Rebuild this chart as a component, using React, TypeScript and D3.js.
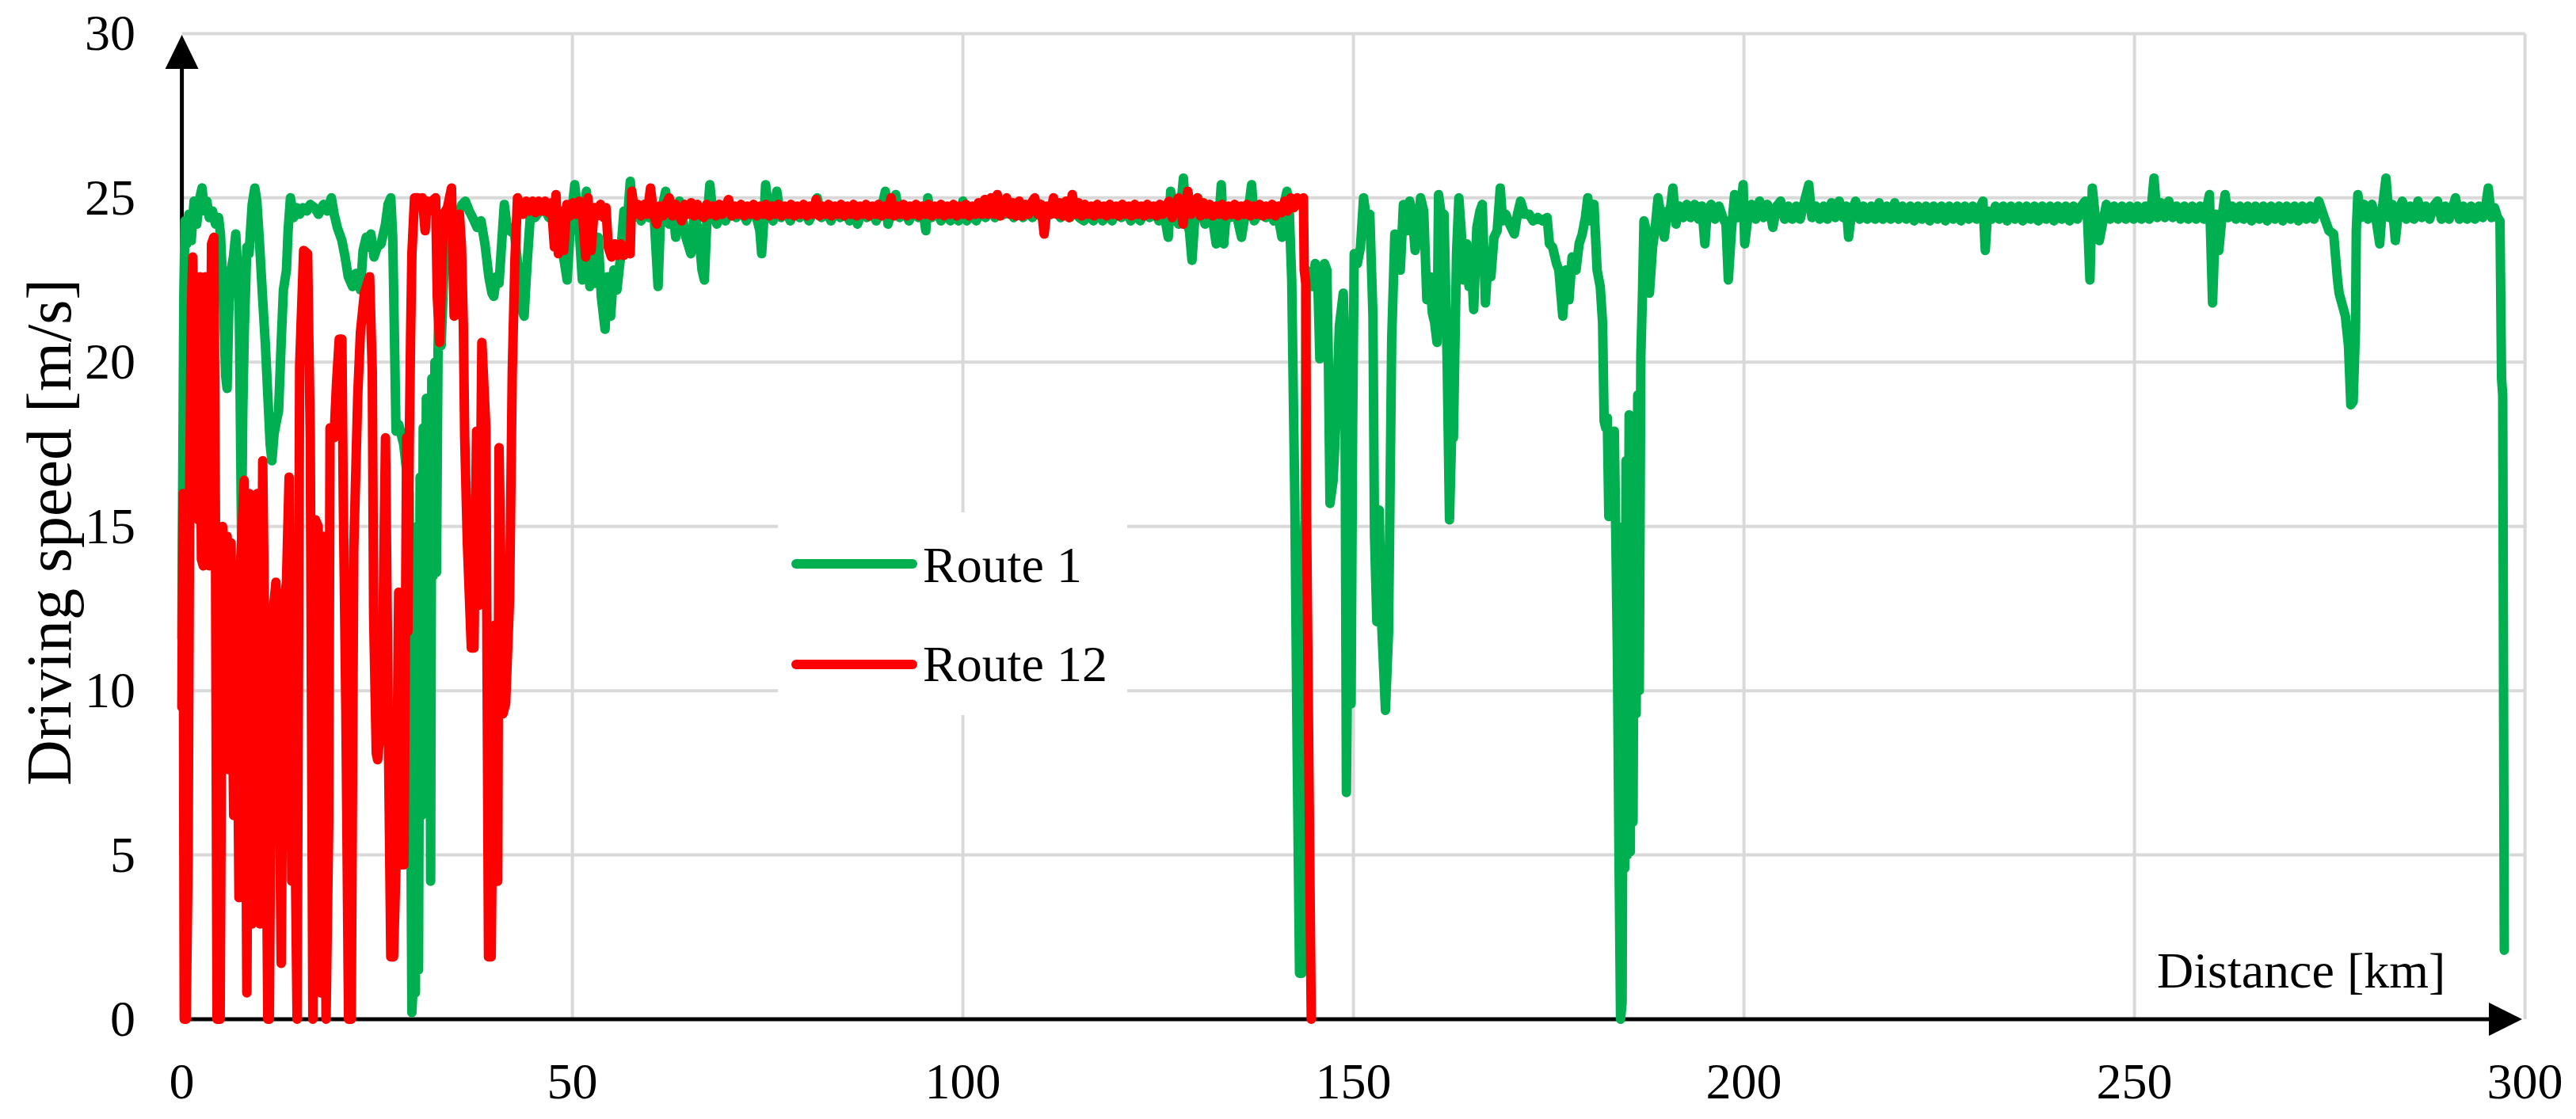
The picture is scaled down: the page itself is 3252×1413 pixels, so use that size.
import React from "react";
import * as d3 from "d3";

const xTicks = [0, 50, 100, 150, 200, 250, 300];
const yTicks = [0, 5, 10, 15, 20, 25, 30];
const seriesNames = ["Route 1", "Route 12"];
const seriesColors = ["#00B050", "#FF0000"];
const xTitle = "Distance [km]";
const yTitle = "Driving speed [m/s]";

// Route 1: [distance km, speed m/s]
const route1: [number, number][] = [
  [0, 11.6], [0.1, 16.0], [0.25, 22.0], [0.4, 24.3], [0.6, 23.6], [0.9, 24.5], [1.2, 23.7], [1.56, 24.9], [1.9, 24.2], [2.3, 25.0],
  [2.58, 25.3], [2.9, 24.6], [3.2, 24.9], [3.5, 24.4], [3.93, 24.6], [4.3, 24.2], [4.7, 24.4], [4.94, 23.9], [5.3, 22.0], [5.6, 19.6],
  [5.79, 19.2], [6.0, 21.5], [6.3, 22.8], [6.6, 23.2], [6.9, 23.9], [7.1, 23.0], [7.31, 22.5], [7.5, 18.0], [7.64, 14.7], [7.8, 18.5],
  [8.0, 21.0], [8.32, 23.5], [8.6, 23.3], [9.0, 24.8], [9.34, 25.3], [9.6, 24.9], [9.9, 23.8], [10.35, 21.9], [10.7, 20.5], [11.0, 19.0],
  [11.3, 17.5], [11.53, 17.0], [11.8, 17.8], [12.1, 18.2], [12.38, 18.5], [12.7, 20.5], [13.0, 22.2], [13.39, 22.8], [13.6, 24.0], [13.9, 25.0],
  [14.3, 24.4], [14.7, 24.7], [15.08, 24.5], [15.5, 24.7], [16.0, 24.6], [16.44, 24.8], [17.0, 24.7], [17.5, 24.5], [18.13, 24.8], [18.6, 24.6],
  [19.14, 25.0], [19.5, 24.5], [19.9, 24.1], [20.49, 23.7], [20.9, 23.2], [21.3, 22.6], [21.85, 22.3], [22.3, 22.7], [22.86, 22.2], [23.2, 23.4],
  [23.6, 23.8], [23.87, 23.5], [24.2, 23.9], [24.6, 23.2], [25.0, 23.5], [25.5, 23.6], [26.07, 24.2], [26.4, 24.8], [26.75, 25.0], [27.0, 23.8],
  [27.2, 21.0], [27.42, 17.9], [27.76, 18.1], [28.4, 17.5], [29.1, 16.0], [29.45, 0.2], [29.6, 1.0], [29.75, 14.8], [29.9, 0.8], [30.1, 15.0],
  [30.3, 1.5], [30.5, 16.5], [30.7, 6.2], [30.9, 18.0], [31.1, 8.0], [31.3, 18.9], [31.5, 9.0], [31.7, 18.5], [31.85, 4.2], [32.0, 19.5],
  [32.2, 13.5], [32.4, 20.0], [32.6, 13.6], [32.8, 20.4], [33.0, 22.9], [33.2, 20.5], [33.5, 22.5], [33.8, 23.4], [34.1, 23.8], [34.52, 24.3],
  [34.9, 22.6], [35.2, 23.5], [35.5, 24.6], [35.88, 24.8], [36.3, 24.9], [36.8, 24.6], [37.23, 24.4], [37.8, 24.1], [38.3, 24.3], [38.8, 23.6],
  [39.3, 22.6], [39.7, 22.1], [39.93, 22.0], [40.3, 22.6], [40.61, 22.4], [41.0, 23.8], [41.28, 24.8], [41.6, 24.2], [41.96, 24.0], [42.6, 23.9],
  [43.2, 22.5], [43.5, 21.6], [43.82, 21.4], [44.2, 23.0], [44.66, 24.6], [45.2, 24.4], [45.8, 24.6], [46.35, 24.7], [47.0, 24.4], [47.5, 24.5],
  [48.04, 24.6], [48.6, 23.6], [49.0, 23.0], [49.33, 22.5], [49.7, 24.0], [50.3, 25.4], [50.8, 24.3], [51.27, 22.5], [51.6, 24.6], [51.8, 25.2],
  [52.23, 22.3], [52.6, 23.4], [52.9, 22.4], [53.3, 23.8], [53.7, 22.0], [54.18, 21.0], [54.5, 22.6], [54.9, 21.4], [55.3, 22.8], [55.7, 22.2],
  [56.12, 23.1], [56.6, 24.6], [57.0, 24.2], [57.41, 25.5], [57.8, 24.4], [58.3, 24.7], [58.8, 24.3], [59.35, 24.6], [59.8, 24.4], [60.4, 24.7],
  [60.97, 22.3], [61.3, 24.5], [61.94, 25.2], [62.4, 24.2], [62.8, 24.8], [63.23, 23.8], [63.7, 24.9], [64.1, 24.4], [64.53, 23.8], [65.17, 23.3],
  [65.6, 24.5], [66.14, 24.0], [66.6, 22.8], [66.9, 22.5], [67.2, 24.2], [67.6, 25.4], [68.0, 24.5], [68.5, 24.2], [69.05, 24.7], [69.6, 24.3],
  [70.2, 24.6], [70.99, 24.4], [71.6, 24.7], [72.28, 24.3], [72.9, 24.6], [73.58, 24.4], [74.0, 24.0], [74.23, 23.3], [74.5, 24.3], [74.74, 25.4],
  [75.2, 24.5], [75.7, 24.3], [76.17, 25.2], [76.7, 24.4], [77.3, 24.6], [77.9, 24.3], [78.5, 24.7], [79.1, 24.4], [79.7, 24.6], [80.3, 24.3],
  [80.9, 24.6], [81.34, 25.0], [81.9, 24.4], [82.5, 24.6], [83.1, 24.3], [83.7, 24.6], [84.3, 24.4], [84.9, 24.6], [85.5, 24.3], [86.1, 24.5],
  [86.5, 24.2], [87.1, 24.6], [87.7, 24.4], [88.3, 24.6], [88.9, 24.3], [89.5, 24.6], [90.07, 25.2], [90.4, 24.2], [90.9, 24.6], [91.4, 25.1],
  [91.9, 24.4], [92.5, 24.6], [93.1, 24.3], [93.7, 24.6], [94.3, 24.4], [94.9, 24.6], [95.25, 24.0], [95.5, 25.0], [96.0, 24.4], [96.6, 24.6],
  [97.2, 24.3], [97.8, 24.5], [98.4, 24.3], [99.0, 24.6], [99.45, 24.3], [100.0, 24.9], [100.5, 24.3], [101.1, 24.5], [101.7, 24.3], [102.3, 24.6],
  [102.9, 24.4], [103.5, 24.7], [104.1, 24.4], [104.7, 24.6], [105.3, 24.5], [105.9, 24.7], [106.5, 24.4], [107.1, 24.6], [107.7, 24.4], [108.3, 24.6],
  [108.9, 24.4], [109.5, 24.6], [110.1, 24.4], [110.7, 24.7], [111.3, 24.5], [111.9, 24.7], [112.5, 24.4], [113.1, 24.6], [113.7, 24.4], [114.3, 24.6],
  [114.9, 24.4], [115.5, 24.3], [116.1, 24.5], [116.7, 24.3], [117.3, 24.6], [117.9, 24.3], [118.5, 24.5], [119.1, 24.3], [119.7, 24.6], [120.3, 24.4],
  [120.9, 24.6], [121.5, 24.3], [122.1, 24.5], [122.7, 24.3], [123.3, 24.6], [123.9, 24.4], [124.5, 24.6], [125.1, 24.3], [125.7, 24.6], [126.29, 23.8],
  [126.6, 25.2], [127.1, 24.4], [127.6, 24.2], [128.0, 25.0], [128.23, 25.6], [128.6, 24.3], [129.0, 24.0], [129.33, 23.1], [129.7, 24.4], [130.1, 25.0],
  [130.49, 24.6], [131.0, 24.2], [131.5, 24.5], [132.0, 24.3], [132.43, 23.6], [132.8, 24.4], [133.08, 25.4], [133.4, 23.6], [133.73, 24.6], [134.2, 24.4],
  [134.7, 24.6], [135.2, 24.3], [135.67, 23.8], [136.2, 24.6], [136.7, 24.9], [136.96, 25.4], [137.3, 24.3], [137.8, 24.5], [138.26, 24.6], [138.8, 24.4],
  [139.3, 24.6], [139.8, 24.3], [140.3, 24.5], [140.85, 23.8], [141.2, 24.9], [141.49, 25.2], [141.8, 24.5], [142.1, 22.5], [142.5, 15.7], [142.8, 8.0],
  [143.1, 1.4], [143.4, 1.4], [143.6, 13.8], [143.8, 15.2], [143.95, 22.8], [144.4, 22.6], [144.8, 22.3], [145.1, 23.0], [145.4, 22.8], [145.7, 20.1],
  [146.0, 22.9], [146.3, 23.0], [146.6, 22.8], [146.8, 19.9], [147.0, 15.7], [147.4, 16.4], [147.8, 18.4], [148.2, 21.1], [148.7, 22.1], [148.9, 20.5],
  [149.1, 6.9], [149.3, 12.0], [149.5, 15.0], [149.7, 9.6], [149.9, 18.0], [150.1, 23.3], [150.5, 23.0], [150.9, 23.5], [151.3, 25.0], [151.7, 24.3],
  [152.1, 24.5], [152.5, 21.4], [152.7, 14.7], [153.0, 12.1], [153.3, 15.5], [153.6, 12.1], [153.9, 10.5], [154.1, 9.4], [154.5, 11.8], [154.9, 20.7],
  [155.3, 23.9], [155.7, 23.2], [156.0, 22.8], [156.4, 24.8], [156.9, 24.0], [157.2, 24.9], [157.5, 24.6], [157.9, 23.4], [158.3, 24.0], [158.6, 25.0],
  [159.0, 24.6], [159.4, 21.9], [159.8, 22.6], [160.1, 21.5], [160.4, 21.2], [160.7, 20.6], [160.9, 25.1], [161.3, 24.4], [161.6, 24.5], [162.0, 20.0],
  [162.3, 15.2], [162.6, 18.0], [162.8, 17.7], [163.2, 23.3], [163.5, 25.0], [163.8, 24.0], [164.1, 22.5], [164.5, 23.6], [164.8, 22.3], [165.1, 23.0],
  [165.4, 21.6], [165.8, 24.1], [166.2, 24.6], [166.5, 24.8], [166.9, 21.8], [167.2, 23.0], [167.6, 22.6], [168.0, 23.8], [168.4, 24.0], [168.8, 25.3],
  [169.1, 24.3], [169.5, 24.5], [170.0, 24.2], [170.6, 23.9], [171.0, 24.5], [171.4, 24.9], [171.9, 24.5], [172.5, 24.5], [173.0, 24.3], [173.6, 24.4],
  [174.2, 24.3], [174.8, 24.4], [175.1, 23.6], [175.5, 23.5], [176.0, 23.0], [176.3, 22.8], [176.8, 21.4], [177.2, 22.8], [177.6, 21.9], [178.0, 23.2],
  [178.5, 22.8], [178.9, 23.6], [179.3, 23.9], [179.7, 24.4], [180.0, 25.0], [180.4, 24.3], [180.8, 24.8], [181.2, 22.8], [181.6, 22.3], [181.9, 21.2],
  [182.1, 18.2], [182.3, 18.0], [182.5, 18.3], [182.7, 15.3], [183.0, 17.0], [183.4, 17.9], [183.6, 14.6], [183.8, 11.0], [184.0, 5.0], [184.2, 0],
  [184.4, 0.5], [184.6, 15.0], [184.75, 4.6], [184.9, 17.0], [185.1, 5.0], [185.3, 18.4], [185.45, 5.1], [185.6, 17.0], [185.8, 6.0], [186.0, 17.7],
  [186.2, 9.3], [186.4, 19.0], [186.6, 10.0], [186.8, 20.2], [187.0, 22.0], [187.2, 24.3], [187.5, 24.0], [187.9, 22.1], [188.3, 23.5], [188.6, 24.0],
  [189.0, 25.0], [189.4, 24.4], [189.8, 23.8], [190.2, 24.6], [190.5, 24.5], [190.9, 25.3], [191.3, 24.2], [191.7, 24.75], [192.2, 24.4], [192.7, 24.8],
  [193.2, 24.4], [193.7, 24.8], [194.2, 24.35], [194.6, 24.75], [195.0, 23.6], [195.3, 24.6], [195.8, 24.8], [196.3, 24.35], [196.8, 24.75], [197.3, 24.4],
  [197.7, 24.2], [198.0, 22.5], [198.4, 24.0], [198.8, 25.1], [199.2, 24.4], [199.6, 24.75], [199.9, 25.4], [200.1, 23.6], [200.5, 24.4], [201.0, 24.8],
  [201.5, 24.35], [202.0, 24.9], [202.5, 24.4], [203.0, 24.8], [203.4, 24.5], [203.7, 24.1], [204.2, 24.75], [204.7, 24.9], [205.2, 24.35], [205.7, 24.75],
  [206.2, 24.35], [206.7, 24.75], [207.2, 24.35], [207.7, 24.85], [208.3, 25.4], [208.7, 24.4], [209.2, 24.75], [209.7, 24.35], [210.2, 24.75], [210.7, 24.35],
  [211.2, 24.85], [211.7, 24.4], [212.2, 24.9], [212.7, 24.4], [213.1, 24.75], [213.4, 23.8], [213.8, 24.6], [214.3, 24.9], [214.8, 24.35], [215.3, 24.75],
  [215.8, 24.35], [216.3, 24.75], [216.8, 24.35], [217.3, 24.85], [217.8, 24.35], [218.3, 24.75], [218.8, 24.35], [219.3, 24.85], [219.8, 24.35], [220.3, 24.75],
  [220.8, 24.35], [221.3, 24.75], [221.8, 24.3], [222.3, 24.75], [222.8, 24.35], [223.3, 24.75], [223.8, 24.3], [224.3, 24.75], [224.8, 24.35], [225.3, 24.75],
  [225.8, 24.3], [226.3, 24.75], [226.8, 24.35], [227.3, 24.75], [227.8, 24.3], [228.3, 24.75], [228.8, 24.35], [229.3, 24.75], [229.8, 24.35], [230.3, 24.75],
  [230.6, 24.9], [230.9, 23.4], [231.2, 24.6], [231.7, 24.35], [232.2, 24.75], [232.7, 24.35], [233.2, 24.75], [233.7, 24.3], [234.2, 24.75], [234.7, 24.35],
  [235.2, 24.75], [235.7, 24.3], [236.2, 24.75], [236.7, 24.35], [237.2, 24.75], [237.7, 24.3], [238.2, 24.75], [238.7, 24.35], [239.2, 24.75], [239.7, 24.3],
  [240.2, 24.75], [240.7, 24.35], [241.2, 24.75], [241.7, 24.3], [242.2, 24.75], [242.7, 24.35], [243.2, 24.75], [243.7, 24.9], [244.0, 24.3], [244.3, 22.5],
  [244.6, 25.3], [245.0, 24.4], [245.5, 23.7], [245.9, 24.2], [246.4, 24.8], [246.9, 24.35], [247.4, 24.75], [247.9, 24.35], [248.4, 24.75], [248.9, 24.35],
  [249.4, 24.75], [249.9, 24.35], [250.4, 24.75], [250.9, 24.35], [251.4, 24.75], [251.9, 24.35], [252.2, 24.8], [252.5, 25.6], [252.9, 24.4], [253.4, 24.85],
  [253.9, 24.4], [254.4, 24.9], [254.9, 24.4], [255.4, 24.75], [255.9, 24.35], [256.4, 24.75], [256.9, 24.35], [257.4, 24.75], [257.9, 24.35], [258.4, 24.75],
  [258.9, 24.35], [259.3, 24.75], [259.6, 25.1], [260.0, 21.8], [260.4, 24.5], [260.8, 23.4], [261.2, 24.4], [261.6, 25.1], [262.0, 24.4], [262.5, 24.75],
  [263.0, 24.35], [263.5, 24.75], [264.0, 24.35], [264.5, 24.75], [265.0, 24.3], [265.5, 24.75], [266.0, 24.35], [266.5, 24.75], [267.0, 24.3], [267.5, 24.75],
  [268.0, 24.35], [268.5, 24.75], [269.0, 24.3], [269.5, 24.75], [270.0, 24.35], [270.5, 24.75], [271.0, 24.3], [271.5, 24.75], [272.0, 24.35], [272.5, 24.75],
  [273.0, 24.35], [273.6, 24.9], [274.3, 24.4], [274.9, 24.0], [275.5, 23.9], [276.0, 22.5], [276.2, 22.1], [277.0, 21.4], [277.4, 20.5], [277.7, 18.7],
  [278.0, 18.8], [278.3, 21.0], [278.4, 24.0], [278.6, 25.1], [279.0, 24.4], [279.4, 24.8], [279.9, 24.35], [280.4, 24.8], [280.9, 24.4], [281.4, 23.6],
  [281.7, 24.6], [282.2, 25.6], [282.6, 24.4], [283.0, 24.8], [283.4, 23.7], [283.8, 24.6], [284.3, 24.9], [284.8, 24.35], [285.3, 24.75], [285.8, 24.35],
  [286.3, 24.9], [286.8, 24.4], [287.3, 24.75], [287.8, 24.35], [288.3, 24.75], [288.8, 24.9], [289.3, 24.35], [289.8, 24.75], [290.3, 24.35], [290.8, 24.75],
  [291.1, 25.0], [291.6, 24.35], [292.1, 24.75], [292.6, 24.35], [293.1, 24.75], [293.6, 24.35], [294.1, 24.75], [294.6, 24.4], [295.0, 24.8], [295.3, 25.3],
  [295.7, 24.4], [296.1, 24.7], [296.5, 24.4], [296.8, 24.3], [297.0, 19.5], [297.15, 19.0], [297.35, 2.1],
];

// Route 12: [distance km, speed m/s]
const route12: [number, number][] = [
  [0, 9.5], [0.15, 16.0], [0.3, 0], [0.55, 0], [0.8, 4.9], [1.0, 16.0], [1.2, 21.5], [1.39, 23.2], [1.6, 20.5], [1.9, 17.4],
  [2.1, 15.2], [2.3, 22.6], [2.5, 14.0], [2.74, 13.8], [3.0, 22.6], [3.25, 14.5], [3.5, 13.8], [3.8, 23.6], [4.1, 23.8], [4.3, 15.0],
  [4.5, 0], [4.9, 0], [5.2, 15.0], [5.5, 14.0], [5.79, 14.7], [5.96, 7.6], [6.29, 14.5], [6.63, 6.2], [6.97, 13.8], [7.31, 3.7],
  [7.5, 13.8], [7.98, 16.4], [8.32, 0.8], [8.66, 16.0], [8.99, 2.9], [9.34, 15.5], [9.67, 16.0], [10.01, 2.9], [10.35, 17.0], [10.69, 9.8],
  [11.0, 0], [11.2, 0], [11.53, 12.0], [12.04, 13.3], [12.38, 9.6], [12.72, 1.7], [13.05, 12.6], [13.39, 13.3], [13.73, 16.5], [14.07, 4.2],
  [14.41, 7.6], [14.75, 0], [15.08, 19.9], [15.59, 23.4], [16.1, 23.3], [16.44, 17.7], [16.77, 0], [17.11, 15.2], [17.45, 15.0], [17.79, 0.8],
  [18.13, 14.7], [18.46, 0], [18.8, 5.9], [18.97, 18.0], [19.48, 17.7], [19.81, 19.4], [20.15, 20.7], [20.49, 20.7], [20.66, 15.9], [21.0, 9.3],
  [21.34, 0], [21.68, 0], [22.01, 14.3], [22.52, 19.0], [22.86, 20.9], [23.37, 22.1], [24.04, 22.6], [24.38, 19.7], [24.55, 12.3], [24.89, 8.1],
  [25.06, 7.9], [25.4, 8.8], [25.73, 11.6], [26.07, 17.7], [26.41, 9.3], [26.75, 1.9], [27.1, 1.9], [27.42, 4.7], [27.76, 13.0], [28.1, 4.7],
  [28.44, 4.7], [28.78, 17.7], [28.94, 11.8], [29.11, 17.4], [29.28, 20.7], [29.45, 23.3], [29.79, 25.0], [30.2, 25.0], [30.47, 24.8], [30.8, 25.0],
  [31.14, 24.0], [31.4, 24.9], [31.65, 24.6], [32.0, 24.9], [32.49, 25.0], [32.7, 22.0], [33.0, 20.6], [33.3, 23.0], [33.51, 24.5], [34.0, 24.7],
  [34.52, 25.3], [34.86, 21.4], [35.2, 23.5], [35.54, 24.5], [35.8, 23.5], [36.04, 21.1], [36.21, 17.7], [36.55, 14.5], [37.06, 11.3], [37.4, 11.3],
  [37.73, 17.9], [38.07, 12.6], [38.41, 20.6], [38.92, 18.0], [39.26, 1.9], [39.6, 1.9], [39.76, 6.0], [40.1, 12.0], [40.44, 4.2], [40.61, 17.4],
  [41.11, 9.3], [41.45, 9.6], [41.96, 12.8], [42.3, 19.7], [42.64, 23.1], [42.97, 25.0], [43.3, 24.8], [43.7, 24.5], [44.1, 24.9], [44.5, 24.6],
  [44.9, 24.9], [45.3, 24.55], [45.7, 24.9], [46.1, 24.6], [46.5, 24.9], [46.9, 24.55], [47.3, 24.85], [47.7, 23.5], [47.9, 25.1], [48.2, 23.3],
  [48.5, 24.6], [48.9, 23.4], [49.3, 24.8], [49.7, 24.45], [50.1, 24.85], [50.5, 24.5], [50.9, 24.9], [51.3, 24.5], [51.7, 23.2], [52.0, 25.0],
  [52.4, 23.4], [52.8, 24.7], [53.2, 24.45], [53.6, 24.8], [54.0, 24.4], [54.3, 24.7], [54.6, 23.5], [55.0, 23.2], [55.4, 23.6], [55.8, 23.25],
  [56.2, 23.6], [56.6, 23.25], [57.0, 23.55], [57.4, 23.3], [57.6, 25.2], [58.0, 24.5], [58.4, 24.8], [58.8, 24.45], [59.2, 24.8], [59.6, 24.5],
  [60.0, 25.3], [60.4, 24.5], [60.8, 24.2], [61.2, 24.75], [61.6, 24.45], [62.0, 24.8], [62.4, 25.0], [62.8, 24.45], [63.2, 24.8], [63.6, 24.5],
  [64.0, 24.3], [64.4, 24.8], [64.8, 24.5], [65.2, 24.85], [65.6, 24.45], [66.0, 24.8], [66.4, 24.5], [66.8, 24.4], [67.2, 24.8], [67.6, 24.5],
  [68.0, 24.75], [68.4, 24.45], [68.8, 24.8], [69.2, 24.5], [69.6, 24.75], [70.0, 24.95], [70.4, 24.45], [70.8, 24.75], [71.2, 24.5], [71.6, 24.8],
  [72.0, 24.45], [72.4, 24.75], [72.8, 24.5], [73.2, 24.8], [73.6, 24.45], [74.0, 24.75], [74.4, 24.5], [74.8, 24.8], [75.2, 24.45], [75.6, 24.75],
  [76.0, 24.5], [76.4, 24.8], [76.8, 24.45], [77.2, 24.75], [77.6, 24.5], [78.0, 24.8], [78.4, 24.45], [78.8, 24.75], [79.2, 24.5], [79.6, 24.8],
  [80.0, 24.45], [80.4, 24.75], [80.8, 24.5], [81.2, 24.95], [81.6, 24.45], [82.0, 24.75], [82.4, 24.5], [82.8, 24.8], [83.2, 24.45], [83.6, 24.75],
  [84.0, 24.5], [84.4, 24.8], [84.8, 24.45], [85.2, 24.75], [85.6, 24.5], [86.0, 24.8], [86.4, 24.45], [86.8, 24.75], [87.2, 24.5], [87.6, 24.8],
  [88.0, 24.45], [88.4, 24.75], [88.8, 24.5], [89.2, 24.8], [89.6, 24.45], [90.0, 24.75], [90.4, 24.5], [90.8, 25.0], [91.2, 24.45], [91.6, 24.75],
  [92.0, 24.5], [92.4, 24.8], [92.8, 24.45], [93.2, 24.75], [93.6, 24.5], [94.0, 24.8], [94.4, 24.45], [94.8, 24.75], [95.2, 24.5], [95.6, 24.8],
  [96.0, 24.45], [96.4, 24.75], [96.8, 24.5], [97.2, 24.8], [97.6, 24.45], [98.0, 24.75], [98.4, 24.5], [98.8, 24.8], [99.2, 24.45], [99.6, 24.75],
  [100.0, 24.5], [100.4, 24.8], [100.8, 24.45], [101.2, 24.75], [101.6, 24.5], [102.0, 24.85], [102.4, 24.5], [102.8, 24.95], [103.2, 24.5], [103.6, 25.0],
  [104.0, 24.5], [104.4, 25.1], [104.8, 24.45], [105.2, 24.8], [105.6, 25.0], [106.0, 24.5], [106.4, 24.85], [106.8, 24.45], [107.2, 24.9], [107.6, 24.45],
  [108.0, 24.8], [108.4, 24.5], [108.8, 24.85], [109.2, 25.0], [109.6, 24.5], [110.0, 24.8], [110.4, 23.9], [110.8, 24.75], [111.2, 24.5], [111.6, 25.0],
  [112.0, 24.5], [112.4, 24.85], [112.8, 24.45], [113.2, 24.9], [113.6, 24.4], [114.0, 25.1], [114.4, 24.5], [114.8, 24.85], [115.2, 24.45], [115.6, 24.8],
  [116.0, 24.5], [116.4, 24.75], [116.8, 24.45], [117.2, 24.8], [117.6, 24.5], [118.0, 24.75], [118.4, 24.45], [118.8, 24.8], [119.2, 24.5], [119.6, 24.75],
  [120.0, 24.45], [120.4, 24.8], [120.8, 24.5], [121.2, 24.75], [121.6, 24.45], [122.0, 24.8], [122.4, 24.5], [122.8, 24.75], [123.2, 24.45], [123.6, 24.8],
  [124.0, 24.5], [124.4, 24.75], [124.8, 24.45], [125.2, 24.8], [125.6, 24.5], [126.0, 24.75], [126.4, 24.9], [126.8, 24.4], [127.2, 24.8], [127.6, 25.0],
  [128.0, 24.5], [128.2, 24.2], [128.5, 24.8], [128.8, 25.2], [129.2, 24.5], [129.6, 24.8], [130.0, 25.0], [130.4, 24.45], [130.8, 24.85], [131.2, 24.5],
  [131.6, 24.8], [132.0, 24.45], [132.4, 24.75], [132.8, 24.5], [133.2, 24.8], [133.6, 24.45], [134.0, 24.75], [134.4, 24.5], [134.8, 24.8], [135.2, 24.45],
  [135.6, 24.75], [136.0, 24.5], [136.4, 24.8], [136.8, 24.45], [137.2, 24.75], [137.6, 24.5], [138.0, 24.8], [138.4, 24.45], [138.8, 24.75], [139.2, 24.5],
  [139.6, 24.8], [140.0, 24.45], [140.4, 24.75], [140.8, 24.55], [141.2, 24.9], [141.6, 24.6], [142.0, 25.0], [142.4, 24.7], [142.8, 25.0], [143.2, 24.8],
  [143.6, 25.0], [143.7, 22.8], [143.9, 22.4], [144.0, 15.3], [144.6, 0],
];

const W = 3252;
const H = 1413;
const X0 = 229.6;
const X1 = 3187.6;
const Y0 = 1287;
const Y1 = 42.4;
const FONT = "'Liberation Serif', 'Times New Roman', Times, serif";

export default function App() {
  const x = d3.scaleLinear().domain([0, 300]).range([X0, X1]);
  const y = d3.scaleLinear().domain([0, 30]).range([Y0, Y1]);
  const line = d3
    .line<[number, number]>()
    .x((d) => x(d[0]))
    .y((d) => y(d[1]));
  const series = [route1, route12];
  const grid = "#d9d9d9";

  return (
    <svg
      width={W}
      height={H}
      viewBox={`0 0 ${W} ${H}`}
      style={{ position: "absolute", left: 0, top: 0, background: "#fff" }}
      fontFamily={FONT}
    >
      <rect x={0} y={0} width={W} height={H} fill="#fff" />
      {yTicks.slice(1).map((t) => (
        <line key={"gy" + t} x1={X0} x2={X1} y1={y(t)} y2={y(t)} stroke={grid} strokeWidth={4} />
      ))}
      {xTicks.slice(1).map((t) => (
        <line key={"gx" + t} x1={x(t)} x2={x(t)} y1={Y1} y2={Y0} stroke={grid} strokeWidth={4} />
      ))}
      <line x1={X0} x2={X0} y1={Y0 + 2} y2={87} stroke="#000" strokeWidth={5} />
      <polygon points={`${X0 - 21},87 ${X0},44 ${X0 + 21},87`} fill="#000" />
      <line x1={X0 - 2} x2={3143} y1={Y0} y2={Y0} stroke="#000" strokeWidth={5} />
      <polygon points={`3142,${Y0 - 21} 3184,${Y0} 3142,${Y0 + 21}`} fill="#000" />
      {series.map((s, i) => (
        <path
          key={seriesNames[i]}
          d={line(s) || ""}
          fill="none"
          stroke={seriesColors[i]}
          strokeWidth={12}
          strokeLinejoin="round"
          strokeLinecap="round"
        />
      ))}
      {xTicks.map((t) => (
        <text key={"tx" + t} x={x(t)} y={1387} fontSize={64} textAnchor="middle" fill="#000">
          {t}
        </text>
      ))}
      {yTicks.map((t) => (
        <text key={"ty" + t} x={171} y={y(t) + 21} fontSize={64} textAnchor="end" fill="#000">
          {t}
        </text>
      ))}
      <text x={2723} y={1247} fontSize={64} fill="#000">
        {xTitle}
      </text>
      <text
        transform={`translate(89, 672) rotate(-90)`}
        fontSize={80}
        textAnchor="middle"
        fill="#000"
      >
        {yTitle}
      </text>
      <rect x={982} y={647} width={441} height={256} fill="#fff" />
      {seriesNames.map((n, i) => (
        <g key={"lg" + n}>
          <line
            x1={1005}
            x2={1152}
            y1={712 + i * 127}
            y2={712 + i * 127}
            stroke={seriesColors[i]}
            strokeWidth={12}
            strokeLinecap="round"
          />
          <text x={1165} y={735 + i * 125} fontSize={64} fill="#000">
            {n}
          </text>
        </g>
      ))}
    </svg>
  );
}
